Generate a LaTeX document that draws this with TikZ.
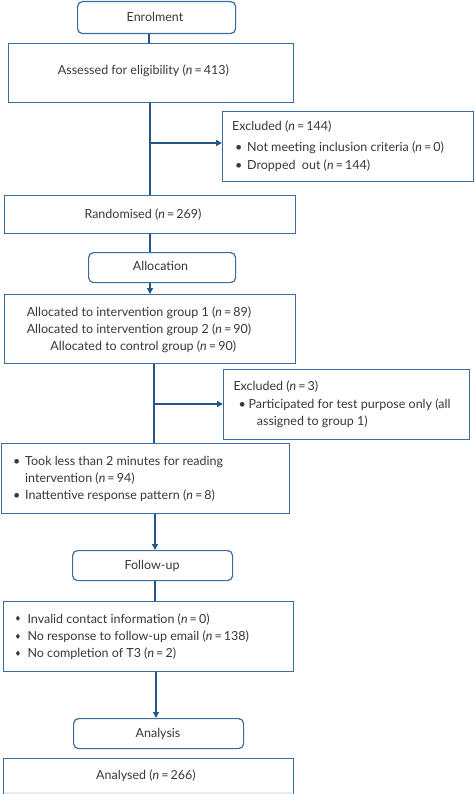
\documentclass[tikz,border=0pt]{standalone}
\usepackage{fontspec}
\setmainfont{Lato}
\newfontfamily\djv{DejaVu Sans}
\usetikzlibrary{arrows.meta}
\definecolor{boxblue}{HTML}{3A6C9E}
\definecolor{lineblue}{HTML}{245788}
\definecolor{txt}{HTML}{383838}
\definecolor{band}{HTML}{E2ECF4}
\begin{document}
\begin{tikzpicture}[x=1pt,y=-1pt,
  box/.style={draw=boxblue,line width=1.2pt,fill=white,anchor=north west,inner sep=0pt},
  rbox/.style={box,rounded corners=5pt},
  conn/.style={draw=lineblue,line width=1.4pt},
  arr/.style={conn,-{Triangle[length=6pt,width=6pt]}},
  lab/.style={inner sep=0pt,text=txt,font=\fontsize{12.5}{15}\selectfont},
  labw/.style={lab,anchor=base west},
  labc/.style={lab,anchor=base}]
\useasboundingbox (0,0) rectangle (474,794);
\clip (0,0) rectangle (474,794);
% boxes
\node[rbox,minimum width=158pt,minimum height=32pt] (enrol) at (77,1) {};
\node[box,minimum width=285pt,minimum height=59pt] (assess) at (8,43) {};
\node[box,minimum width=251pt,minimum height=70pt] (excl1) at (222,111) {};
\node[box,minimum width=291pt,minimum height=38pt] (rand) at (4,195) {};
\node[rbox,minimum width=147pt,minimum height=30pt] (alloc) at (88,252) {};
\node[box,minimum width=291pt,minimum height=69pt] (allocd) at (4,294) {};
\node[box,minimum width=246pt,minimum height=70pt] (excl2) at (223,369) {};
\node[box,minimum width=288.5pt,minimum height=70pt] (took) at (0.6,443) {};
\node[rbox,minimum width=160pt,minimum height=30pt] (follow) at (72,550) {};
\node[box,minimum width=290pt,minimum height=70pt] (invalid) at (3,601) {};
\node[rbox,minimum width=170pt,minimum height=30pt] (analysis) at (73,718) {};
\node[box,minimum width=290pt,minimum height=45pt] (analysed) at (3,758) {};
\fill[band] (3.6,791.5) rectangle (292.4,794);
% texts
\node[labc] (tEnrol) at (155,21.7) {Enrolment};
\node[labc] (tAssess) at (143.5,75) {Assessed for eligibility (\textit{n}\,=\,413)};
\node[labw] (tEx1) at (232,130.7) {Excluded (\textit{n}\,=\,144)};
\node[labw] (tEx1b) at (235,151.7) {•};
\node[labw] (tEx1a) at (247,151.7) {Not meeting inclusion criteria (\textit{n}\,=\,0)};
\node[labw] (tEx1d) at (235,169.3) {•};
\node[labw] (tEx1c) at (247,169.3) {Dropped\ \ out (\textit{n}\,=\,144)};
\node[labc] (tRand) at (143,218.3) {Randomised (\textit{n}\,=\,269)};
\node[labc] (tAlloc) at (160.5,270.7) {Allocation};
\node[labc] (tAl1) at (139,316.7) {Allocated to intervention group 1 (\textit{n}\,=\,89)};
\node[labc] (tAl2) at (139,333.3) {Allocated to intervention group 2 (\textit{n}\,=\,90)};
\node[labc] (tAl3) at (143.3,350) {Allocated to control group (\textit{n}\,=\,90)};
\node[labw] (tEx2) at (233.3,390.7) {Excluded (\textit{n}\,=\,3)};
\node[labw] (tEx2b) at (238.5,408.3) {•};
\node[labw] (tEx2a) at (248.3,408.3) {Participated for test purpose only (all};
\node[labw] (tEx2c) at (256.7,425.5) {assigned to group 1)};
\node[labw] (tTb1) at (13,465.7) {•};
\node[labw] (tT1) at (25,465.7) {Took less than 2 minutes for reading};
\node[labw] (tT2) at (25,482.3) {intervention (\textit{n}\,=\,94)};
\node[labw] (tTb2) at (13,499.7) {•};
\node[labw] (tT3) at (25,499.7) {Inattentive response pattern (\textit{n}\,=\,8)};
\node[labc] (tFollow) at (152,569) {Follow-up};
\node[labw,font=\djv\fontsize{7.5}{9}\selectfont] (tIb1) at (14.5,621.6) {♦};
\node[labw] (tI1) at (27.3,623.3) {Invalid contact information (\textit{n}\,=\,0)};
\node[labw,font=\djv\fontsize{7.5}{9}\selectfont] (tIb2) at (14.5,639) {♦};
\node[labw] (tI2) at (27.3,640.7) {No response to follow-up email (\textit{n}\,=\,138)};
\node[labw,font=\djv\fontsize{7.5}{9}\selectfont] (tIb3) at (14.5,656) {♦};
\node[labw] (tI3) at (27.3,657.7) {No completion of T3 (\textit{n}\,=\,2)};
\node[labc] (tAnalysis) at (158,737.7) {Analysis};
\node[labc] (tAnalysed) at (146,779.3) {Analysed (\textit{n}\,=\,266)};
% connector x positions
\coordinate (xa) at (149,0);
\coordinate (xb) at (150,0);
\coordinate (xc) at (154,0);
\coordinate (xd) at (155,0);
\coordinate (xe) at (156,0);
\coordinate (j1) at (150,143);
\coordinate (j2) at (154,404);
% connectors
\draw[conn] (enrol.south -| xa) -- (assess.north -| xa);
\draw[conn] (assess.south -| xb) -- (rand.north -| xb);
\draw[arr] (j1) -- (j1 -| excl1.west);
\draw[conn] (rand.south -| xb) -- (alloc.north -| xb);
\draw[arr] (alloc.south -| xb) -- (allocd.north -| xb);
\draw[conn] (allocd.south -| xc) -- (took.north -| xc);
\draw[arr] (j2) -- (j2 -| excl2.west);
\draw[arr] (took.south -| xd) -- (follow.north -| xd);
\draw[conn] (follow.south -| xd) -- (invalid.north -| xd);
\draw[arr] (invalid.south -| xe) -- (analysis.north -| xe);
\end{tikzpicture}
\end{document}
